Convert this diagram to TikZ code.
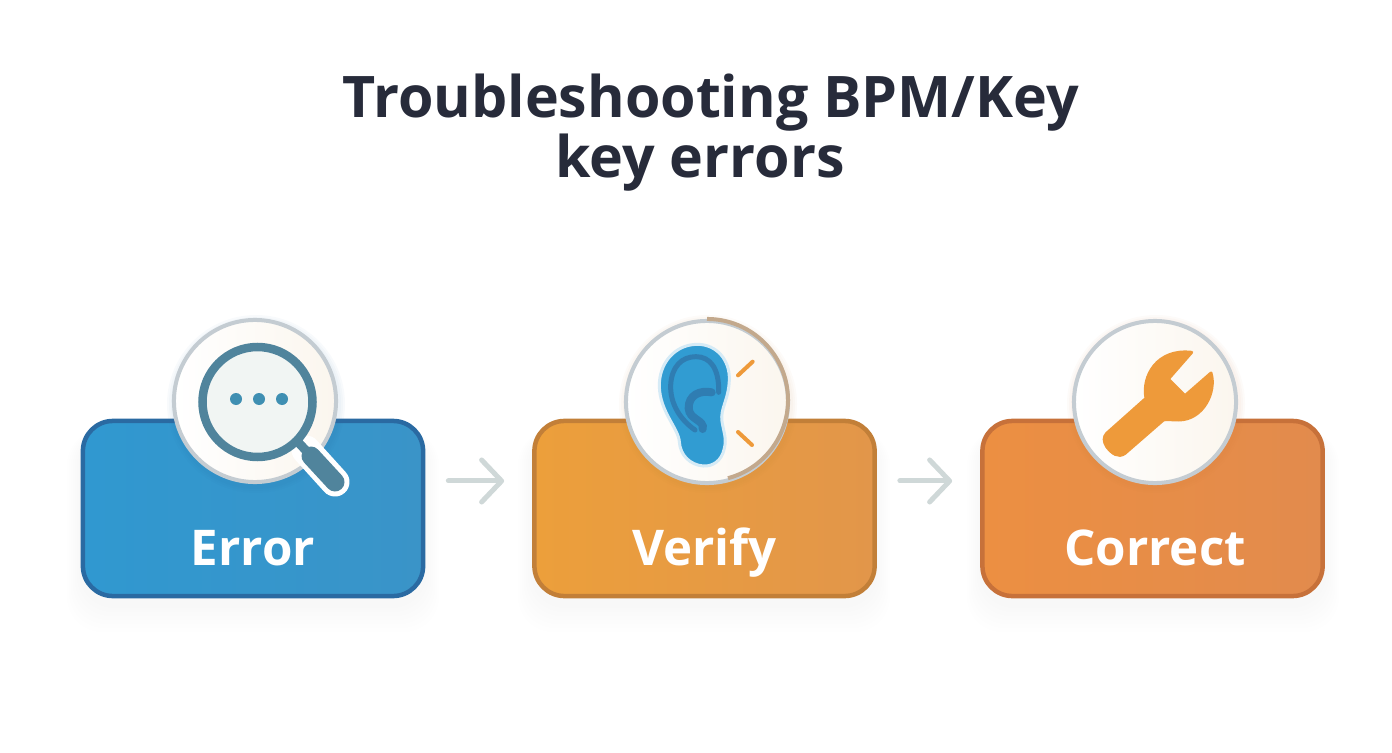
\documentclass[tikz,border=0pt]{standalone}
\usepackage{fontspec}
\setmainfont{Open Sans}
\usetikzlibrary{arrows.meta}

\definecolor{titleink}{HTML}{272B3A}
\definecolor{errorblue}{HTML}{3098D0}
\definecolor{errorblueb}{HTML}{3A94C8}
\definecolor{errorline}{HTML}{2A6AA2}
\definecolor{verifyor}{HTML}{EC9F3B}
\definecolor{verifyorb}{HTML}{E2964A}
\definecolor{verifyline}{HTML}{C27F38}
\definecolor{corrector}{HTML}{EC8F42}
\definecolor{correctorb}{HTML}{E28B4D}
\definecolor{correctline}{HTML}{C7713A}
\definecolor{discfill}{HTML}{FBF6EE}
\definecolor{discline}{HTML}{C4CCD2}
\definecolor{lensring}{HTML}{50849C}
\definecolor{lensfill}{HTML}{F1F5F3}
\definecolor{dotblue}{HTML}{3F8FB2}
\definecolor{earblue}{HTML}{319CD2}
\definecolor{eardark}{HTML}{2F7DB2}
\definecolor{iconorange}{HTML}{EE9A3A}
\definecolor{arrowgrey}{HTML}{CFD8D8}

\tikzset{
  stepbox/.style={draw, line width=0.045cm, rounded corners=0.3cm, minimum width=3.4cm, minimum height=1.75cm},
  steplabel/.style={text=white, anchor=base, font=\bfseries\fontsize{14}{16}\selectfont, inner sep=0pt},
  icondisc/.style={circle, draw=discline, left color=white, right color=discfill, line width=0.04cm, minimum size=1.62cm, inner sep=0pt},
  flowarrow/.style={-{Straight Barb[length=0.2cm,width=0.42cm,round]}, arrowgrey, line width=0.05cm, line cap=round, shorten <=0.23cm, shorten >=0.28cm},
  titletext/.style={text=titleink, anchor=base, font=\bfseries\fontsize{16.3}{20}\selectfont, inner sep=0pt},
}

\begin{document}
\begin{tikzpicture}[x=0.01cm, y=-0.01cm]
  \useasboundingbox (0,0) rectangle (1392,752);

  % Title
  \node[titletext] (titleone) at (711,118) {Troubleshooting BPM/Key};
  \node[titletext] (titletwo) at (700,178) {key errors};

  % Soft shadows under the boxes
  \foreach \bx in {253,704,1153} {
    \foreach \g in {4,8,...,28} {
      \fill[black, opacity=0.002, rounded corners=0.35cm]
        (\bx-172-\g/2,430) rectangle (\bx+172+\g/2,604+\g);
    }
  }

  % Boxes
  \node[stepbox, draw=errorline, left color=errorblue, right color=errorblueb] (error) at (253,508.5) {};
  \node[stepbox, draw=verifyline, left color=verifyor, right color=verifyorb] (verify) at (704.5,508.5) {};
  \node[stepbox, draw=correctline, left color=corrector, right color=correctorb] (correct) at (1152.5,508.5) {};

  % Box labels
  \node[steplabel] (errorlabel) at (253,565) {Error};
  \node[steplabel] (verifylabel) at (704.5,565) {Verify};
  \node[steplabel] (correctlabel) at (1155,565) {Correct};

  % Arrows
  \draw[flowarrow] ([yshift=0.275cm]error.east) -- ([yshift=0.275cm]verify.west);
  \draw[flowarrow] ([yshift=0.275cm]verify.east) -- ([yshift=0.275cm]correct.west);

  % Shadows under the discs
  \foreach \cx/\cc in {255/errorline,707/verifyline,1155/correctline} {
    \foreach \g in {2,4,6} {
      \fill[\cc, opacity=0.03] (\cx+1,404) circle[radius=83+\g];
    }
  }

  % Discs
  \node[icondisc] (errordisc) at (255,401) {};
  \node[icondisc] (verifydisc) at (707,402) {};
  \node[icondisc] (correctdisc) at (1155,402) {};
  \draw[line width=0.04cm, color=verifyline!45!discline] (verifydisc.90) arc[start angle=-90, end angle=75, radius=81];

  % Magnifier
  \begin{scope}
    \draw[white, line width=0.29cm, line cap=round] (306,450) -- (335,482);
    \draw[lensring, line width=0.09cm] (298,442) -- (311,456);
    \draw[lensring, line width=0.19cm, line cap=round] (311,456) -- (335,482);
    \draw[lensring, fill=lensfill, line width=0.085cm] (257.5,402) circle[radius=55];
    \fill[dotblue] (236,399) circle[radius=6];
    \fill[dotblue] (259,399) circle[radius=6];
    \fill[dotblue] (282,399) circle[radius=6];
  \end{scope}

  % Ear
  \begin{scope}[shift={(610,305)}, scale=1/3]
    \path[fill=earblue, draw=white!80!earblue, line width=0.03cm]
      (262,118) .. controls (320,118) and (360,165) .. (358,225)
      .. controls (356,285) and (330,310) .. (336,350)
      .. controls (342,385) and (350,400) .. (343,430)
      .. controls (335,470) and (305,485) .. (280,483)
      .. controls (240,480) and (210,450) .. (208,410)
      .. controls (205,370) and (150,320) .. (148,245)
      .. controls (146,175) and (195,118) .. (262,118) -- cycle;
    \draw[eardark, line width=0.05cm, line cap=round]
      (255,375) .. controls (205,340) and (180,290) .. (182,240)
      .. controls (185,185) and (215,155) .. (258,155)
      .. controls (300,155) and (328,190) .. (326,262);
    \draw[eardark, line width=0.08cm, line cap=round]
      (305,262) .. controls (270,255) and (235,270) .. (236,310)
      .. controls (238,345) and (285,345) .. (278,372);
    \draw[iconorange, line width=0.04cm, line cap=round] (384,211) -- (428,170);
    \draw[iconorange, line width=0.04cm, line cap=round] (384,381) -- (426,420);
  \end{scope}

  % Wrench
  \begin{scope}[shift={(1060,305)}, scale=1/3]
    \path[fill=iconorange, draw=iconorange, line width=0.03cm, line join=round]
      (395,142) -- (325,222) -- (375,272) -- (453,204)
      .. controls (470,260) and (430,345) .. (355,345)
      .. controls (335,345) and (320,342) .. (310,345)
      -- (195,445) .. controls (175,460) and (155,445) .. (140,425)
      .. controls (130,410) and (130,395) .. (140,385)
      -- (258,280)
      .. controls (245,215) and (290,130) .. (395,142) -- cycle;
  \end{scope}
\end{tikzpicture}
\end{document}
